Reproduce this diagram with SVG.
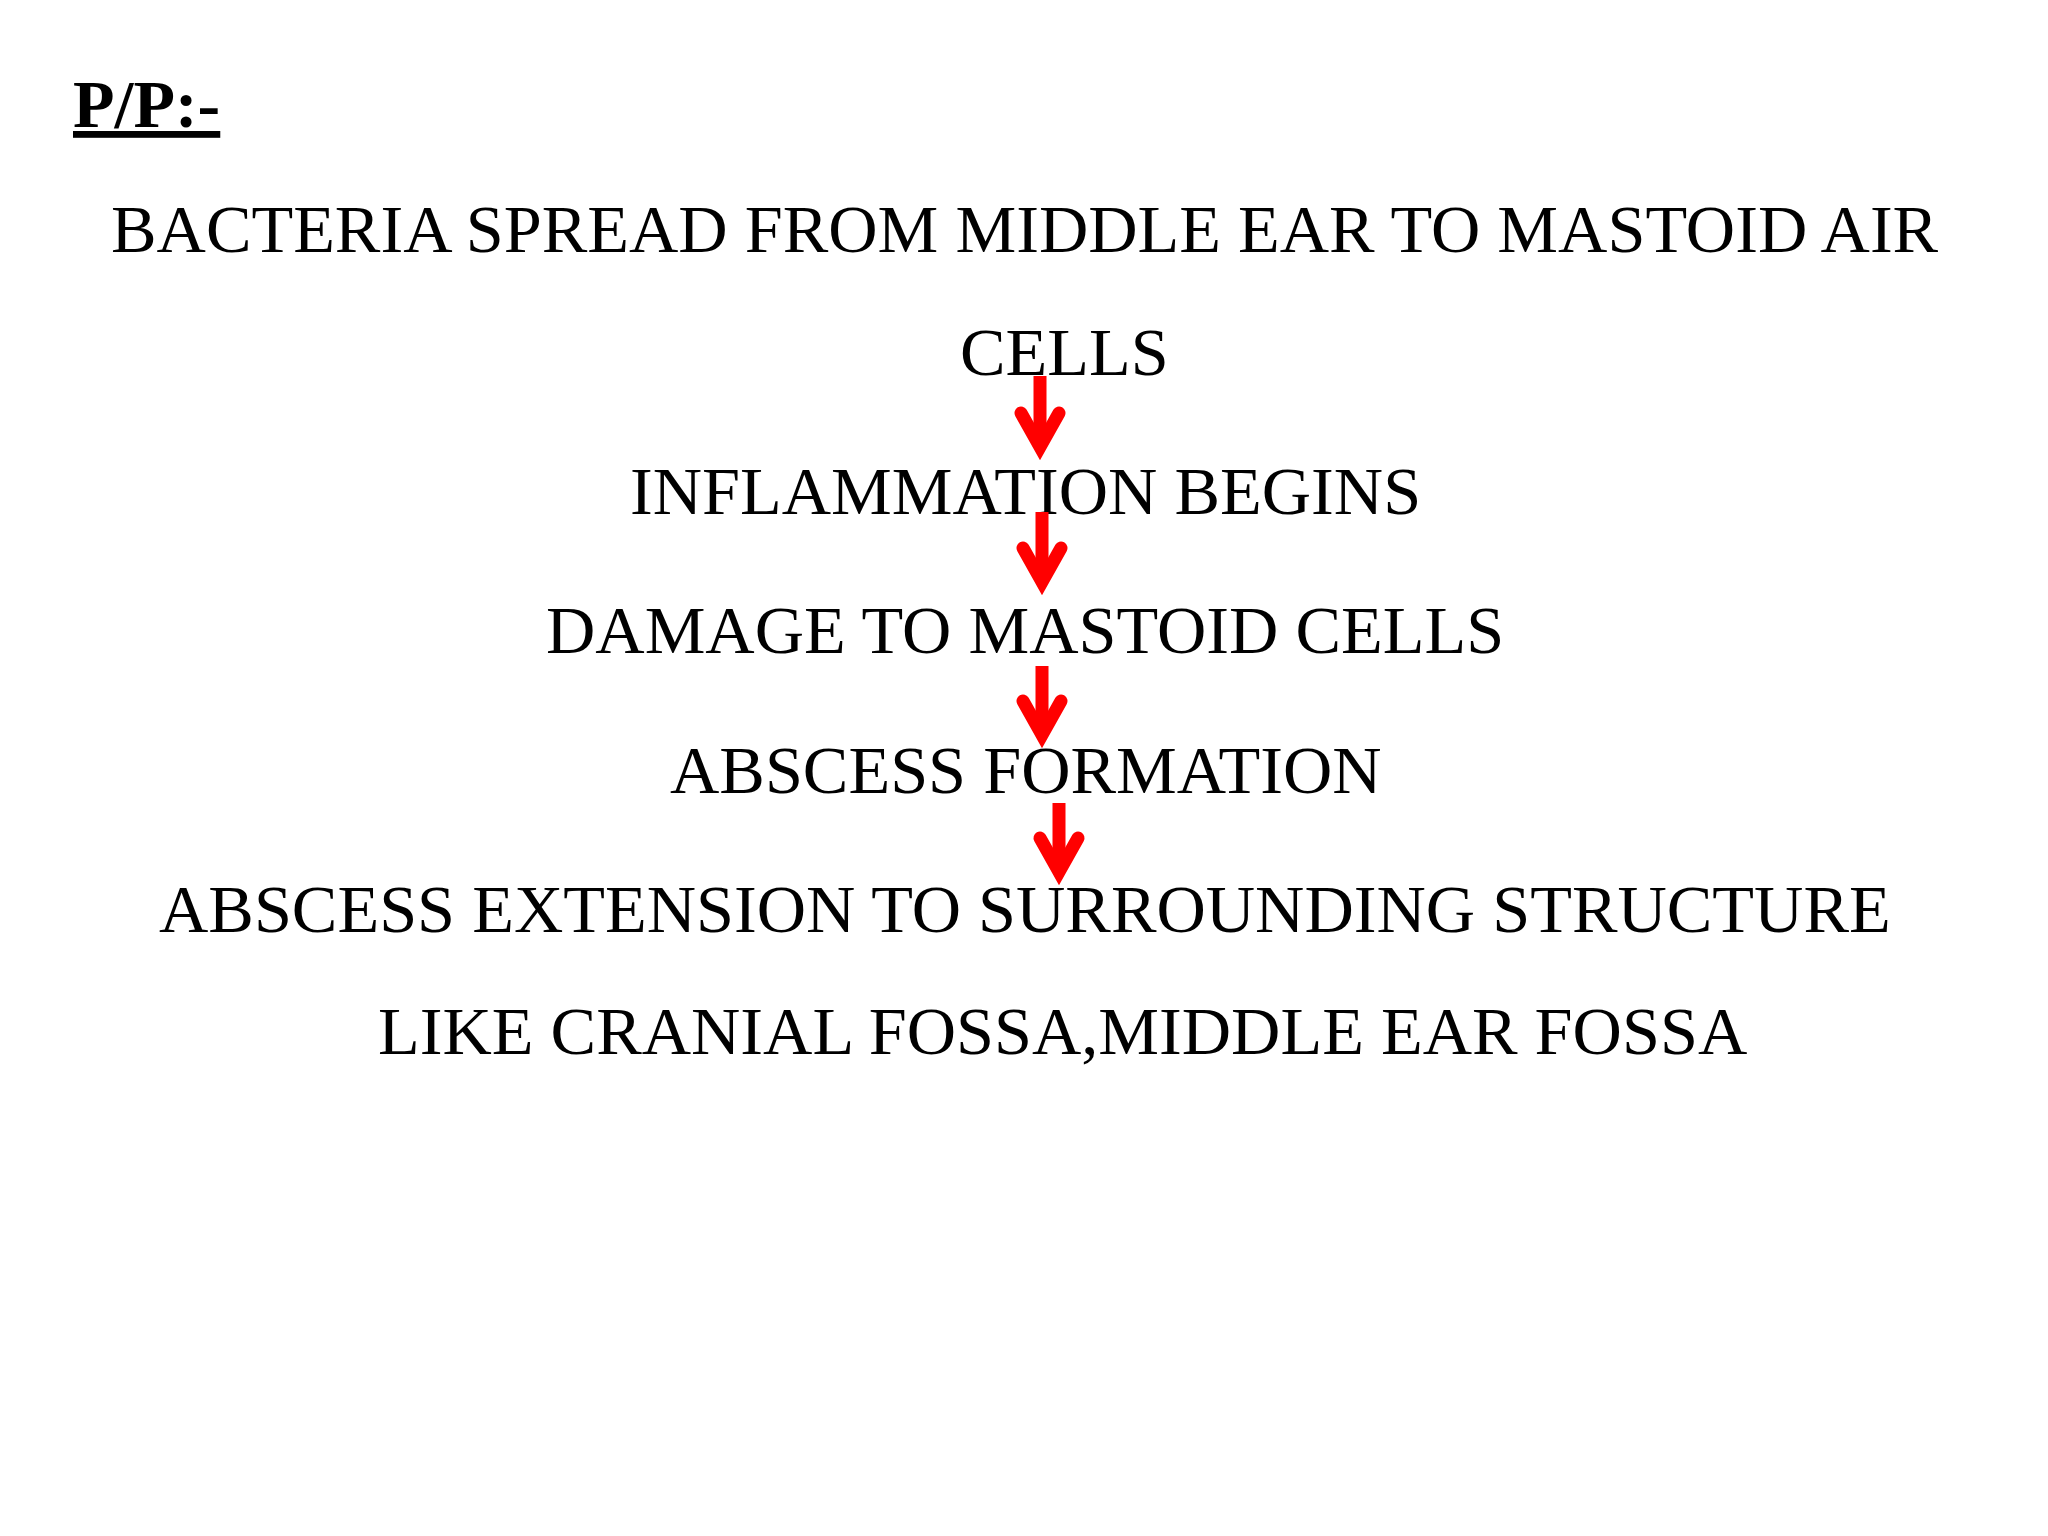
<svg xmlns="http://www.w3.org/2000/svg" width="2048" height="1536" viewBox="0 0 2048 1536">
<style>
.t{font-family:"Liberation Serif","Times New Roman",serif;font-size:68.3px;fill:#000}
.h{font-family:"Liberation Serif","Times New Roman",serif;font-size:68px;font-weight:bold;fill:#000;text-decoration:underline}
.shaft{stroke:#ff0000;stroke-width:13;fill:none;stroke-linecap:butt}
.head{stroke:#ff0000;stroke-width:13;fill:none;stroke-linecap:round;stroke-linejoin:miter;stroke-miterlimit:10}
</style>
<rect width="2048" height="1536" fill="#fff"/>
<g id="title"><text class="h" x="73" y="127">P/P:-</text></g>
<g id="n1"><text class="t" x="111" y="252">BACTERIA SPREAD FROM MIDDLE EAR TO MASTOID AIR</text><text class="t" x="960" y="375">CELLS</text></g>
<g id="n2"><text class="t" x="630" y="514">INFLAMMATION BEGINS</text></g>
<g id="n3"><text class="t" x="546" y="653">DAMAGE TO MASTOID CELLS</text></g>
<g id="n4"><text class="t" x="670" y="793">ABSCESS FORMATION</text></g>
<g id="n5"><text class="t" x="159" y="932">ABSCESS EXTENSION TO SURROUNDING STRUCTURE</text><text class="t" x="378" y="1054">LIKE CRANIAL FOSSA,MIDDLE EAR FOSSA</text></g>
<g id="connectors">
<g><line class="shaft" x1="1040" y1="376" x2="1040" y2="446"/><polyline class="head" points="1021,413 1040,447 1059,413"/></g>
<g><line class="shaft" x1="1042" y1="512" x2="1042" y2="581"/><polyline class="head" points="1023,548 1042,582 1061,548"/></g>
<g><line class="shaft" x1="1042" y1="666" x2="1042" y2="734"/><polyline class="head" points="1023,701 1042,735 1061,701"/></g>
<g><line class="shaft" x1="1059" y1="803" x2="1059" y2="871"/><polyline class="head" points="1040,838 1059,872 1078,838"/></g>
</g>
</svg>
